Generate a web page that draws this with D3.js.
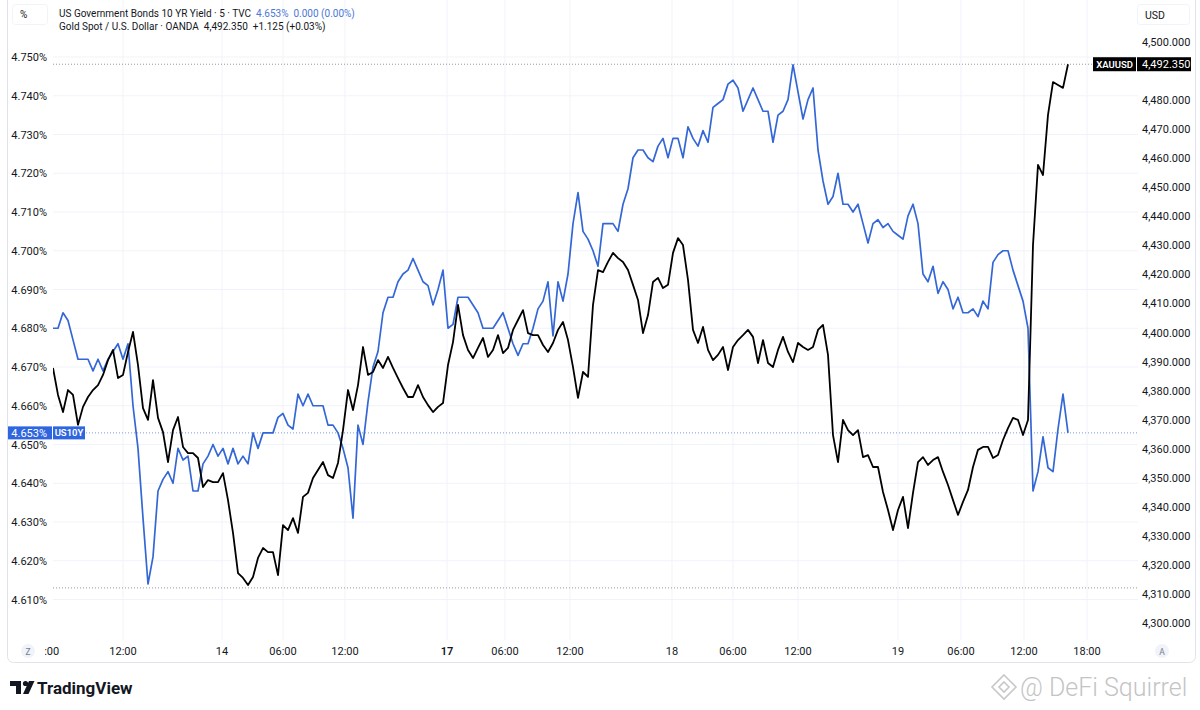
<!DOCTYPE html>
<html>
<head>
<meta charset="utf-8">
<script src="https://cdn.jsdelivr.net/npm/d3@7"></script>
<style>
  body { margin: 0; background: #fff; }
  text { font-family: Roboto, "Noto Sans", sans-serif; }
</style>
</head>
<body>
<svg id="chart" width="1200" height="710"></svg>
<script>
// US10Y yield (%), one value per sampled bar
const yieldSeries = [
  4.680,4.680,4.684,4.682,4.677,4.672,4.672,4.672,4.669,4.672,
  4.669,4.672,4.674,4.676,4.672,4.676,4.660,4.649,4.631,4.614,
  4.621,4.638,4.641,4.643,4.640,4.649,4.646,4.647,4.638,4.638,
  4.645,4.647,4.650,4.647,4.649,4.645,4.649,4.645,4.647,4.645,
  4.653,4.649,4.653,4.653,4.653,4.657,4.658,4.655,4.654,4.663,
  4.660,4.663,4.660,4.660,4.660,4.655,4.655,4.653,4.649,4.644,
  4.631,4.655,4.650,4.661,4.670,4.674,4.684,4.688,4.688,4.692,
  4.694,4.695,4.698,4.695,4.692,4.691,4.686,4.690,4.695,4.680,
  4.681,4.688,4.688,4.688,4.686,4.684,4.680,4.680,4.680,4.682,
  4.684,4.680,4.676,4.673,4.676,4.676,4.680,4.685,4.687,4.692,
  4.678,4.692,4.687,4.694,4.707,4.715,4.705,4.703,4.700,4.696,
  4.707,4.707,4.707,4.705,4.712,4.716,4.724,4.726,4.726,4.724,
  4.723,4.727,4.729,4.724,4.729,4.729,4.724,4.732,4.729,4.727,
  4.731,4.728,4.737,4.738,4.739,4.743,4.744,4.742,4.736,4.739,
  4.742,4.739,4.736,4.736,4.728,4.735,4.736,4.739,4.748,4.741,
  4.734,4.739,4.742,4.726,4.718,4.712,4.714,4.720,4.712,4.712,
  4.710,4.712,4.707,4.702,4.707,4.708,4.706,4.707,4.705,4.704,
  4.703,4.709,4.712,4.707,4.694,4.692,4.696,4.689,4.692,4.690,
  4.685,4.688,4.684,4.684,4.685,4.683,4.687,4.685,4.697,4.699,
  4.700,4.700,4.695,4.691,4.687,4.680,4.638,4.643,4.652,4.644,
  4.643,4.654,4.663,4.653
];

// XAUUSD gold spot, same bars
const goldSeries = [
  4387.8,4378.5,4372.6,4380.2,4378.5,4368.2,4374.4,4377.8,4380.2,4381.9,
  4385.4,4390.5,4394.0,4384.3,4385.4,4393.3,4400.2,4388.8,4374.0,4369.9,
  4383.6,4370.6,4365.7,4355.4,4366.4,4370.9,4360.6,4358.5,4358.5,4356.8,
  4346.8,4349.2,4348.5,4348.5,4351.6,4342.3,4331.0,4317.2,4315.5,4313.1,
  4315.8,4322.4,4325.8,4324.4,4324.4,4316.5,4333.7,4332.0,4336.1,4331.0,
  4343.4,4344.8,4349.9,4352.7,4355.4,4350.9,4349.9,4355.1,4366.4,4380.2,
  4373.3,4381.9,4395.0,4385.4,4386.4,4390.5,4387.8,4391.6,4387.8,4384.3,
  4380.9,4377.8,4377.8,4381.9,4377.8,4375.0,4372.6,4374.4,4375.7,4388.8,
  4396.7,4409.5,4399.1,4394.0,4391.2,4394.7,4398.1,4391.6,4394.0,4399.1,
  4392.9,4394.7,4400.9,4404.3,4407.7,4399.8,4399.1,4399.1,4395.7,4393.3,
  4396.4,4400.9,4403.6,4397.4,4388.1,4377.5,4386.4,4384.7,4409.5,4421.5,
  4420.8,4424.3,4427.4,4425.6,4424.3,4421.5,4416.4,4411.2,4399.8,4406.0,
  4417.4,4418.8,4415.3,4416.4,4427.4,4432.5,4430.1,4418.1,4400.9,4396.4,
  4401.9,4394.0,4390.5,4392.3,4395.0,4387.1,4395.0,4397.4,4399.1,4400.9,
  4398.5,4389.5,4397.4,4389.5,4388.1,4394.0,4398.5,4393.3,4389.8,4396.4,
  4395.0,4394.0,4395.0,4400.9,4402.6,4392.3,4364.7,4355.4,4369.9,4366.4,
  4364.7,4366.4,4357.1,4357.8,4353.7,4353.7,4345.1,4338.9,4332.0,4338.9,
  4343.4,4332.7,4344.8,4355.4,4357.1,4354.4,4356.1,4357.1,4352.0,4347.5,
  4342.3,4337.2,4341.7,4345.8,4353.7,4359.6,4360.6,4360.6,4356.8,4357.8,
  4363.0,4367.1,4370.6,4369.9,4364.7,4369.9,4430.1,4457.7,4454.2,4474.9,
  4486.2,4485.2,4484.2,4492.35
];

const yieldTicks = [4.61,4.62,4.63,4.64,4.65,4.66,4.67,4.68,4.69,4.70,4.71,4.72,4.73,4.74,4.75];
const goldTicks = [4300,4310,4320,4330,4340,4350,4360,4370,4380,4390,4400,4410,4420,4430,4440,4450,4460,4470,4480,4490,4500];

// time axis: bar position of each label
const timeTickBars   = [-1.5, 14, 33.8, 46, 58.4, 78.8, 90.4, 103.4, 123.8, 136, 149, 169, 181.6, 194.2, 206.8];
const timeTickLabels = ["06:00","12:00","14","06:00","12:00","17","06:00","12:00","18","06:00","12:00","19","06:00","12:00","18:00"];
const boldLabels = ["17"];

const yieldLast = 4.653, yieldLow = 4.613;
const goldLast = 4492.35;

const plotL = 53, plotR = 1138, plotT = 0, plotB = 640;
const visibleBars = 217;

const svg = d3.select('#chart');

const x = d3.scaleLinear().domain([0, visibleBars]).range([plotL, plotR]);
const yL = d3.scaleLinear().domain([4.75 - 583 / 3875, 4.75 + 57 / 3875]).range([plotB, plotT]);
const yR = d3.scaleLinear().domain([4500 - 598 / 2.905, 4500 + 42 / 2.905]).range([plotB, plotT]);

const dark = '#131722';
const blue = '#3467d6';

// frame
svg.append('rect')
  .attr('x', 7.5).attr('y', -6).attr('width', 1188).attr('height', 668.5)
  .attr('rx', 6).attr('fill', '#fff').attr('stroke', '#e0e3eb');

// grid
const grid = svg.append('g');
grid.selectAll('line.h').data(yieldTicks).enter().append('line')
  .attr('x1', plotL).attr('x2', plotR)
  .attr('y1', d => yL(d)).attr('y2', d => yL(d))
  .attr('stroke', '#f0f3fa').attr('stroke-width', 1);
grid.selectAll('line.v').data(timeTickBars.filter(b => b > 0)).enter().append('line')
  .attr('x1', d => x(d)).attr('x2', d => x(d))
  .attr('y1', plotT).attr('y2', plotB)
  .attr('stroke', '#f0f3fa').attr('stroke-width', 1);

svg.append('clipPath').attr('id', 'plotClip')
  .append('rect').attr('x', plotL).attr('y', plotT)
  .attr('width', plotR - plotL).attr('height', plotB - plotT);

const plot = svg.append('g').attr('clip-path', 'url(#plotClip)');

// dotted price lines
plot.append('line')
  .attr('x1', plotL).attr('x2', 1094)
  .attr('y1', yR(goldLast)).attr('y2', yR(goldLast))
  .attr('stroke', '#9598a1').attr('stroke-dasharray', '1,2');
plot.append('line')
  .attr('x1', plotL).attr('x2', plotR)
  .attr('y1', yL(yieldLow)).attr('y2', yL(yieldLow))
  .attr('stroke', '#9598a1').attr('stroke-dasharray', '1,2');
plot.append('line')
  .attr('x1', plotL).attr('x2', plotR)
  .attr('y1', yL(yieldLast)).attr('y2', yL(yieldLast))
  .attr('stroke', '#7f9be0').attr('stroke-dasharray', '1,2');

const yieldLine = d3.line().x((d, i) => x(i)).y(d => yL(d));
const goldLine = d3.line().x((d, i) => x(i)).y(d => yR(d));

plot.append('path').datum(yieldSeries)
  .attr('d', yieldLine).attr('fill', 'none')
  .attr('stroke', blue).attr('stroke-width', 1.7).attr('stroke-linejoin', 'round');
plot.append('path').datum(goldSeries)
  .attr('d', goldLine).attr('fill', 'none')
  .attr('stroke', '#000').attr('stroke-width', 1.8).attr('stroke-linejoin', 'round');

// left price scale
const fmtPct = d => d3.format('.3f')(d) + '%';
svg.append('g').selectAll('text').data(yieldTicks).enter().append('text')
  .attr('x', 47).attr('y', d => yL(d) + 4)
  .attr('text-anchor', 'end').attr('font-size', 11).attr('fill', dark)
  .text(fmtPct);

// right price scale (the tick hidden under the last-price tag is skipped)
svg.append('g').selectAll('text')
  .data(goldTicks.filter(d => Math.abs(yR(d) - yR(goldLast)) > 12)).enter().append('text')
  .attr('x', 1142).attr('y', d => yR(d) + 4)
  .attr('font-size', 11).attr('fill', dark)
  .text(d => d3.format(',.3f')(d));

// time axis
svg.append('clipPath').attr('id', 'timeClip')
  .append('rect').attr('x', 45).attr('y', plotB).attr('width', 1090).attr('height', 22);
svg.append('g').attr('clip-path', 'url(#timeClip)')
  .selectAll('text').data(timeTickBars).enter().append('text')
  .attr('x', d => x(d)).attr('y', 655)
  .attr('text-anchor', 'middle').attr('font-size', 11)
  .attr('fill', dark)
  .attr('font-weight', (d, i) => boldLabels.includes(timeTickLabels[i]) ? 600 : 400)
  .text((d, i) => timeTickLabels[i]);

// corner buttons
[[28, 'Z'], [1162, 'A']].forEach(([cx, t]) => {
  svg.append('circle').attr('cx', cx).attr('cy', 651).attr('r', 7).attr('fill', '#f0f3fa');
  svg.append('text').attr('x', cx).attr('y', 654.5).attr('text-anchor', 'middle')
    .attr('font-size', 8.5).attr('fill', '#787b86').text(t);
});

// unit boxes
svg.append('rect').attr('x', 12.5).attr('y', 4.5).attr('width', 35).attr('height', 20)
  .attr('rx', 3).attr('fill', '#fff').attr('stroke', '#f0f3fa');
svg.append('text').attr('x', 20).attr('y', 18).attr('font-size', 10).attr('fill', dark).text('%');
svg.append('rect').attr('x', 1137.5).attr('y', 4.5).attr('width', 52).attr('height', 20)
  .attr('rx', 3).attr('fill', '#fff').attr('stroke', '#f0f3fa');
svg.append('text').attr('x', 1145).attr('y', 18.5).attr('font-size', 10.5).attr('fill', dark).text('USD');

// legend
const leg1 = svg.append('text').attr('x', 59).attr('y', 16.5).attr('font-size', 10);
leg1.append('tspan').attr('fill', dark).text('US Government Bonds 10 YR Yield · 5 · TVC');
leg1.append('tspan').attr('fill', '#4a78d8').attr('dx', 5).text('4.653%');
leg1.append('tspan').attr('fill', '#4a78d8').attr('dx', 5).text('0.000 (0.00%)');
const leg2 = svg.append('text').attr('x', 59).attr('y', 30).attr('font-size', 10).attr('fill', dark);
leg2.append('tspan').text('Gold Spot / U.S. Dollar · OANDA');
leg2.append('tspan').attr('dx', 5).text('4,492.350');
leg2.append('tspan').attr('dx', 5).text('+1.125 (+0.03%)');

// last-value labels
const gy = yR(goldLast);
svg.append('rect').attr('x', 1093).attr('y', gy - 7).attr('width', 43).attr('height', 14).attr('fill', '#000');
svg.append('text').attr('x', 1114.5).attr('y', gy + 3.5).attr('text-anchor', 'middle')
  .attr('font-size', 9.5).attr('font-weight', 600).attr('fill', '#fff').text('XAUUSD');
svg.append('rect').attr('x', 1137).attr('y', gy - 7).attr('width', 54).attr('height', 14).attr('fill', '#000');
svg.append('text').attr('x', 1142).attr('y', gy + 4).attr('font-size', 11).attr('fill', '#fff')
  .text(d3.format(',.3f')(goldLast));

const yy = yL(yieldLast);
svg.append('rect').attr('x', 8).attr('y', yy - 6.5).attr('width', 44).attr('height', 13).attr('fill', '#2f66e0');
svg.append('text').attr('x', 47).attr('y', yy + 4).attr('text-anchor', 'end')
  .attr('font-size', 11).attr('fill', '#fff').text(fmtPct(yieldLast));
svg.append('rect').attr('x', 53).attr('y', yy - 6.5).attr('width', 32).attr('height', 13).attr('fill', '#2f66e0');
svg.append('text').attr('x', 69).attr('y', yy + 3.5).attr('text-anchor', 'middle')
  .attr('font-size', 9.5).attr('font-weight', 600).attr('fill', '#fff').text('US10Y');

// TradingView logo
const logo = svg.append('g').attr('fill', '#131722');
logo.append('path').attr('d', 'M10,681 h11 v13 h-5 v-8 h-6 z');
logo.append('circle').attr('cx', 25.5).attr('cy', 683.5).attr('r', 2.6);
logo.append('path').attr('d', 'M29,681 h5.5 l-6,13 h-5.5 z');
svg.append('text').attr('x', 37).attr('y', 694).attr('font-size', 17)
  .attr('font-weight', 700).attr('fill', '#131722').text('TradingView');

// watermark
const wm = svg.append('g').attr('fill', 'none').attr('stroke', '#c8c8c8').attr('stroke-width', 1.6);
wm.append('path').attr('d', 'M1004,675 l12,12 l-12,12 l-12,-12 z');
wm.append('path').attr('d', 'M1004,682 l5,5 l-5,5 l-5,-5 z');
svg.append('text').attr('x', 1020).attr('y', 696).attr('font-size', 25)
  .attr('font-weight', 300).attr('fill', '#c4c4c4').text('@ DeFi Squirrel');
</script>
</body>
</html>
